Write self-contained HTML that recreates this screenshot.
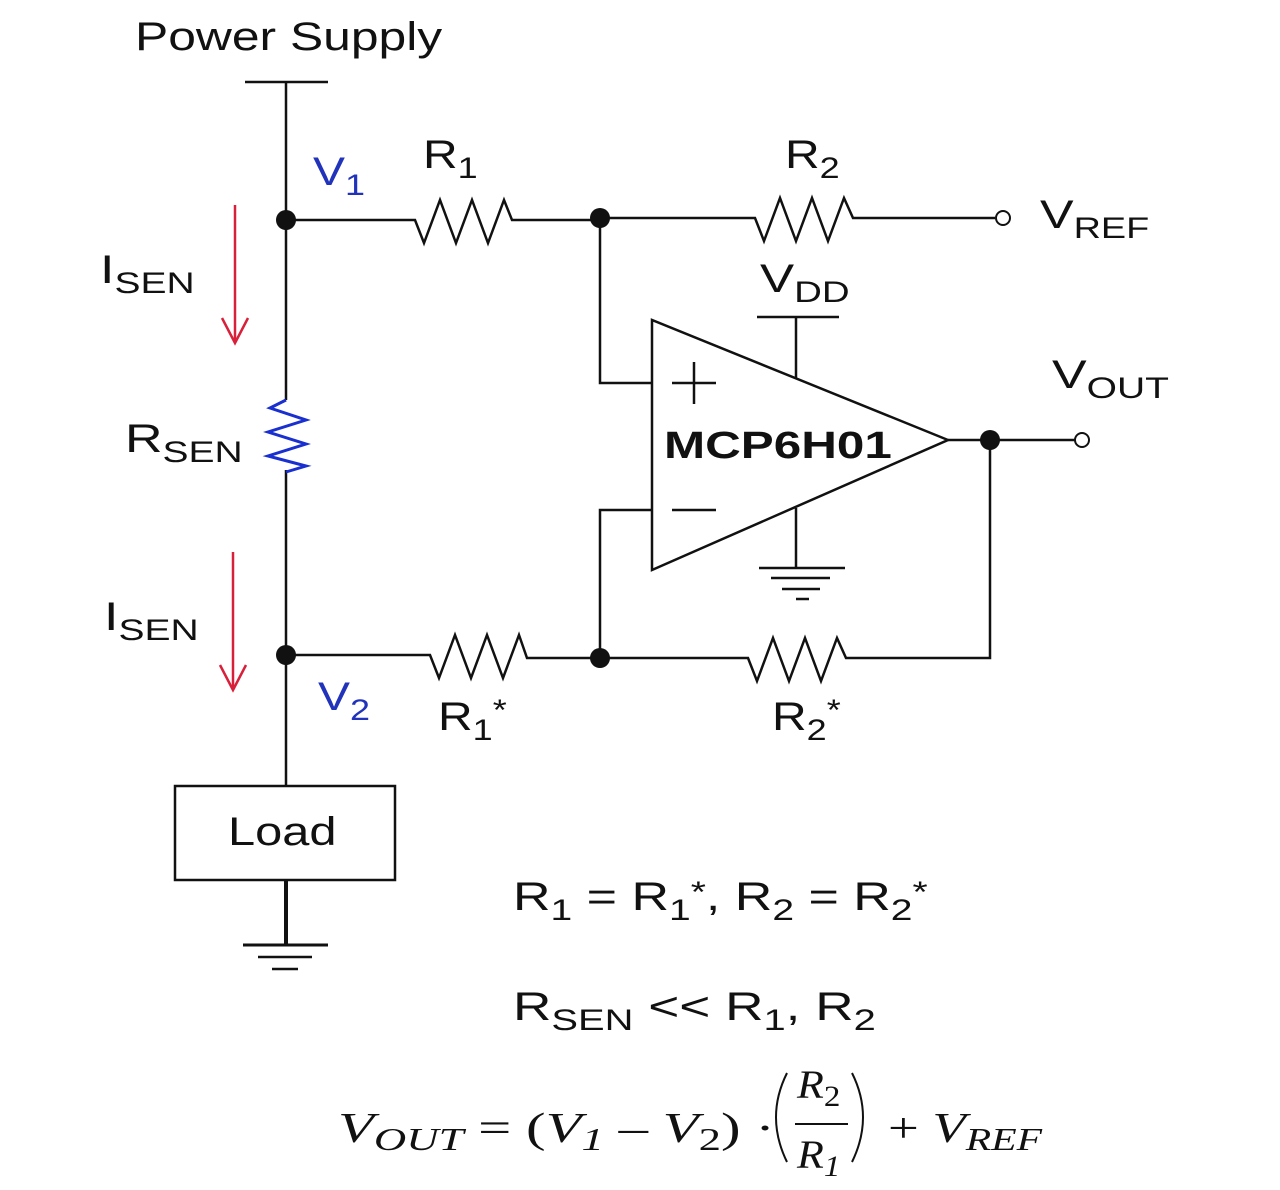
<!DOCTYPE html>
<html><head><meta charset="utf-8"><style>
body{margin:0;background:#fff}
svg{display:block}
text{font-family:"Liberation Sans",sans-serif;fill:#111}
.s{font-family:"Liberation Serif",serif;font-style:italic}
</style></head><body>
<svg width="1280" height="1190" viewBox="0 0 1280 1190" xmlns="http://www.w3.org/2000/svg">
<g stroke="#111" stroke-width="2.5" fill="none">
<line x1="245" y1="82" x2="328" y2="82"/>
<line x1="286" y1="82" x2="286" y2="400"/>
<line x1="286" y1="470" x2="286" y2="786"/>
<polyline points="286,220 415,220 424,243 440,200 456,243 472,200 488,243 504,200 512,220 600,220"/>
<polyline points="600,218 755,218 764,241 780,198 796,241 812,198 828,241 844,198 853,218 995,218"/>
<circle cx="1003" cy="218" r="7" stroke-width="2"/>
<polyline points="286,655 430,655 439,678 455,635 471,678 487,635 503,678 519,635 527,658 748,658 757,681 773,638 789,681 805,638 821,681 837,638 846,658 990,658 990,440"/>
<polyline points="600,220 600,383 652,383"/>
<polyline points="600,658 600,510 652,510"/>
<polygon points="652,320 652,570 948,440"/>
<line x1="948" y1="440" x2="1075" y2="440"/>
<circle cx="1082" cy="440" r="7" stroke-width="2"/>
<line x1="757" y1="317" x2="839" y2="317"/>
<line x1="796" y1="317" x2="796" y2="378"/>
<line x1="796" y1="508" x2="796" y2="568"/>
<line x1="759" y1="568" x2="845" y2="568"/>
<line x1="771" y1="578" x2="830" y2="578"/>
<line x1="782" y1="589" x2="820" y2="589"/>
<line x1="796" y1="599" x2="809" y2="599"/>
<line x1="672" y1="383" x2="716" y2="383"/>
<line x1="694" y1="362" x2="694" y2="404"/>
<line x1="672" y1="510" x2="716" y2="510"/>
<rect x="175" y="786" width="220" height="94"/>
<line x1="286" y1="880" x2="286" y2="945" stroke-width="4"/>
<line x1="243" y1="945" x2="328" y2="945" stroke-width="3"/>
<line x1="258" y1="957" x2="312" y2="957"/>
<line x1="272" y1="969" x2="298" y2="969"/>
<path d="M787,1073 Q765,1117 787,1162" stroke-width="2"/>
<path d="M852,1073 Q874,1117 852,1162" stroke-width="2"/>
<line x1="795" y1="1124" x2="848" y2="1124" stroke-width="2"/>
</g>
<polyline points="286,400 270,408 306,420 268,432 306,444 268,456 306,466 286,472" stroke="#1a2fd0" stroke-width="3" fill="none"/>
<g stroke="#d8203a" stroke-width="2.5" fill="none">
<line x1="235" y1="205" x2="235" y2="343"/><polyline points="222,318 235,343 248,318"/>
<line x1="233" y1="552" x2="233" y2="690"/><polyline points="220,665 233,690 246,665"/>
</g>
<g fill="#111">
<circle cx="286" cy="220" r="10"/><circle cx="600" cy="218" r="10"/>
<circle cx="286" cy="655" r="10"/><circle cx="600" cy="658" r="10"/>
<circle cx="990" cy="440" r="10"/>
</g>
<text transform="translate(135,0) scale(1.245,1)" x="0" y="50" font-size="40">Power Supply</text>
<text transform="translate(313,0) scale(1.2,1)" x="0" y="185" font-size="40" style="fill:#2233bb">V<tspan font-size="30" dy="10" style="fill:#2233bb">1</tspan></text>
<text transform="translate(423,0) scale(1.2,1)" x="0" y="168" font-size="40">R<tspan font-size="30" dy="10">1</tspan></text>
<text transform="translate(785,0) scale(1.2,1)" x="0" y="168" font-size="40">R<tspan font-size="30" dy="10">2</tspan></text>
<text transform="translate(1040,0) scale(1.26,1)" x="0" y="228" font-size="40">V<tspan font-size="30" dy="10">REF</tspan></text>
<text transform="translate(760,0) scale(1.28,1)" x="0" y="292" font-size="40">V<tspan font-size="30" dy="10">DD</tspan></text>
<text transform="translate(1052,0) scale(1.3,1)" x="0" y="388" font-size="40">V<tspan font-size="30" dy="10">OUT</tspan></text>
<text transform="translate(664,0) scale(1.3,1)" x="0" y="458" font-size="38" font-weight="bold">MCP6H01</text>
<text transform="translate(100,0) scale(1.3,1)" x="0" y="283" font-size="40">I<tspan font-size="30" dy="10">SEN</tspan></text>
<text transform="translate(125,0) scale(1.3,1)" x="0" y="452" font-size="40">R<tspan font-size="30" dy="10">SEN</tspan></text>
<text transform="translate(104,0) scale(1.3,1)" x="0" y="630" font-size="40">I<tspan font-size="30" dy="10">SEN</tspan></text>
<text transform="translate(318,0) scale(1.2,1)" x="0" y="710" font-size="40" style="fill:#2233bb">V<tspan font-size="30" dy="10" style="fill:#2233bb">2</tspan></text>
<text transform="translate(438,0) scale(1.2,1)" x="0" y="730" font-size="40">R<tspan font-size="30" dy="10">1</tspan><tspan dy="-20" font-size="30">*</tspan></text>
<text transform="translate(772,0) scale(1.2,1)" x="0" y="730" font-size="40">R<tspan font-size="30" dy="10">2</tspan><tspan dy="-20" font-size="30">*</tspan></text>
<text transform="translate(228,0) scale(1.22,1)" x="0" y="845" font-size="40">Load</text>
<text transform="translate(513,0) scale(1.3,1)" x="0" y="910" font-size="40">R<tspan font-size="30" dy="10">1</tspan><tspan dy="-10"> = R</tspan><tspan font-size="30" dy="10">1</tspan><tspan font-size="30" dy="-18">*</tspan><tspan dy="8">, R</tspan><tspan font-size="30" dy="10">2</tspan><tspan dy="-10"> = R</tspan><tspan font-size="30" dy="10">2</tspan><tspan font-size="30" dy="-18">*</tspan></text>
<text transform="translate(513,0) scale(1.33,1)" x="0" y="1020" font-size="40">R<tspan font-size="30" dy="10">SEN</tspan><tspan dy="-10"> &lt;&lt; R</tspan><tspan font-size="30" dy="10">1</tspan><tspan dy="-10">, R</tspan><tspan font-size="30" dy="10">2</tspan></text>
<text class="s" transform="translate(338,0) scale(1.4,1)" x="0" y="1142" font-size="42">V<tspan font-size="32" dy="8">OUT</tspan><tspan dy="-8" style="font-style:normal"> = (</tspan>V<tspan font-size="32" dy="8">1</tspan><tspan dy="-8" style="font-style:normal"> – </tspan>V<tspan font-size="32" dy="8" style="font-style:normal">2</tspan><tspan dy="-8" style="font-style:normal">) ·</tspan></text>
<text class="s" transform="translate(797,0) scale(1.1,1)" x="0" y="1098" font-size="40">R<tspan font-size="30" dy="8" style="font-style:normal">2</tspan></text>
<text class="s" transform="translate(797,0) scale(1.1,1)" x="0" y="1168" font-size="40">R<tspan font-size="30" dy="8">1</tspan></text>
<text class="s" transform="translate(888,0) scale(1.3,1)" x="0" y="1142" font-size="42"><tspan style="font-style:normal">+ </tspan>V<tspan font-size="32" dy="8">REF</tspan></text>
</svg>
</body></html>
